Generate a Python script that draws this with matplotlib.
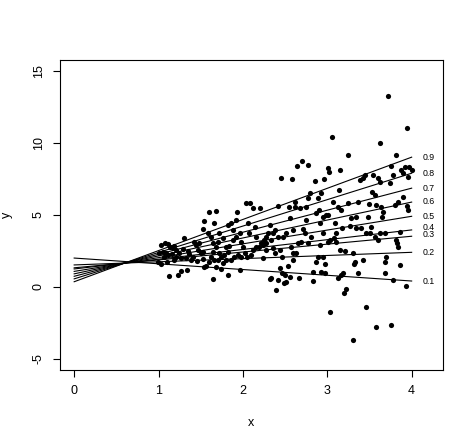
import matplotlib
matplotlib.use("Agg")
import matplotlib.pyplot as plt
import numpy as np

plt.rcParams['font.family'] = ['Liberation Sans', 'DejaVu Sans']

# scatter points in 3x-zoom pixel coordinates (zx, zy)
zx = [305, 318, 325, 333, 340, 345, 350, 310, 320, 300, 313, 325, 338, 350, 360, 370, 375, 385, 390, 380,
      365, 395, 297, 306, 322, 345, 330, 355, 365, 382, 400, 405, 410, 420, 415, 425, 412, 430, 435, 440,
      430,
      435, 448, 470, 465, 432, 445, 455, 460, 475, 480, 490, 500, 470, 462, 455, 448, 465, 480, 485,
      495, 505, 510, 505, 515, 530, 533, 522, 530, 520, 540, 545, 550, 462, 485, 505, 540, 545, 535, 525,
      515, 500, 490, 475, 470,
      560, 570, 580, 600, 565, 568, 585, 590, 598, 605, 612, 618, 625, 620, 610, 590, 580, 575, 562, 555,
      620, 610, 632, 645, 655, 665, 640, 635, 640, 645, 660, 668, 660, 668, 675, 655, 650, 635, 630, 655,
      670, 680, 688, 690, 698, 700, 695, 700, 710, 700, 685, 690, 680, 672,
      705, 712, 728, 745, 705, 720, 740, 740, 730, 735, 725, 715, 745, 755, 750, 745, 767, 770, 778, 775,
      785, 780, 790, 790, 780, 775, 770, 790, 795, 785, 795, 760, 760, 718, 793, 800, 805, 805, 810, 816,
      806, 808, 820, 825, 830, 822, 830, 835, 838, 842, 845, 848, 812, 836, 845, 850, 852, 860, 840, 855,
      865, 870, 875, 865, 880, 880, 888, 890, 885, 882, 895, 900, 905, 895, 910, 910, 915, 920, 918, 925,
      928, 930, 935, 940, 938, 945, 950, 955, 960, 962, 965, 960, 955, 945, 950, 970, 975, 975, 980, 985,
      990, 993, 995, 1000, 1000, 1005, 1010, 1015, 1012, 1015, 1020, 1025, 1028, 1030, 1035, 1040, 1038, 1042,
      1045, 1045, 1048, 1055, 1020, 1010, 968, 975]
zy = [556, 548, 553, 560, 565, 558, 570, 575, 578, 580, 590, 585, 582, 590, 580, 567, 535, 572, 583, 595,
      595, 600, 607, 612, 605, 600, 648, 646, 632, 630, 590, 545, 555, 550, 570, 580, 602, 575, 620, 618,
      598,
      482, 455, 453, 490, 508, 520, 530, 548, 545, 520, 535, 560, 560, 575, 590, 605, 600, 578, 592,
      585, 575, 557, 495, 490, 480, 455, 510, 530, 540, 520, 545, 560, 657, 628, 646, 630, 590, 585, 590,
      600, 600, 610, 600, 620,
      430, 430, 445, 443, 488, 520, 500, 530, 560, 550, 540, 530, 520, 548, 555, 560, 570, 585, 592, 580,
      570, 595, 495, 510, 437, 355, 520, 540, 565, 580, 570, 592, 625, 638, 645, 660, 690, 655, 658, 530,
      530, 520, 440, 475, 358, 510, 560, 580, 580, 600, 618, 650, 665, 670,
      427, 318, 302, 315, 440, 445, 440, 480, 508, 520, 545, 548, 550, 530, 398, 415, 364, 460, 450, 415,
      400, 490, 470, 520, 555, 590, 607, 590, 612, 635, 640, 635, 662, 655, 358, 465, 465, 545, 540, 232,
      325, 335, 427, 490, 520, 535, 545, 440, 390, 330, 450, 505, 755, 655, 645, 638, 700, 688, 570, 572,
      284, 498, 475, 430, 578, 840, 470, 505, 605, 612, 425, 360, 505, 640, 355, 600, 345, 520, 742, 470,
      432, 520, 500, 345, 395, 405, 435, 355, 365, 248, 442, 520, 540, 530, 800, 455, 640, 605, 590, 110,
      370, 318, 795, 345, 660, 435, 285, 425, 550, 562, 515, 330, 340, 410, 320, 203, 678, 437,
      352, 450, 320, 330, 615, 540, 470, 520]

x = (np.array(zx) - 45) / 252.6
y = (680.1 - np.array(zy)) / 43.0

# quantile regression lines
taus = [0.1, 0.2, 0.3, 0.4, 0.5, 0.6, 0.7, 0.8, 0.9]
intercepts = [2.00, 1.52, 1.32, 1.24, 1.07, 0.90, 0.73, 0.55, 0.35]
slopes = [-0.40, 0.22, 0.55, 0.68, 0.96, 1.25, 1.535, 1.84, 2.17]
label_y = [0.40, 2.40, 3.62, 4.14, 4.91, 5.91, 6.87, 7.91, 9.03]
line_x = [0.0, 4.0]
label_x = 4.2

W, H = 474, 445
fig = plt.figure(figsize=(W / 100, H / 100), dpi=100)
ax = fig.add_axes([60 / W, 1 - 370 / H, (442.7 - 60) / W, (370 - 60) / H])

ax.scatter(x, y, s=14, c='black', marker='o', linewidths=0, zorder=3)

for t, a, b, ly in zip(taus, intercepts, slopes, label_y):
    xs = np.array(line_x)
    ax.plot(xs, a + b * xs, color='black', lw=0.8, zorder=2)
    ax.text(label_x, ly, f"{t:g}", ha='center', va='center', fontsize=6.3)

ax.set_xlim(-0.168, 4.368)
ax.set_ylim(-5.8, 15.8)
ax.set_xticks([0, 1, 2, 3, 4])
ax.set_yticks([-5, 0, 5, 10, 15])
ax.set_xticklabels(['0', '1', '2', '3', '4'])
ax.set_yticklabels(['-5', '0', '5', '10', '15'], rotation=90, va='center')
ax.tick_params(direction='out', length=5, width=0.8, pad=6, labelsize=9)
for s in ax.spines.values():
    s.set_linewidth(0.8)
ax.set_xlabel('x', fontsize=9, labelpad=14)
ax.set_ylabel('y', fontsize=9, labelpad=14)

fig.savefig('out.png', dpi=100)
